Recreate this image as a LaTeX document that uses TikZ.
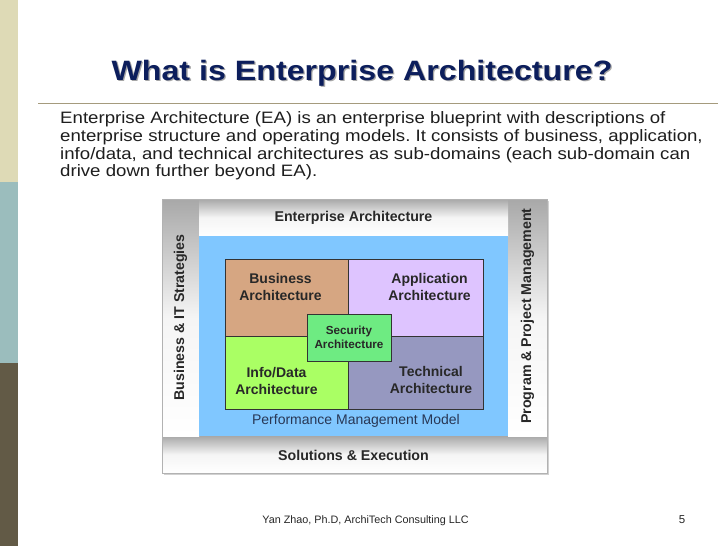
\documentclass[tikz,border=0pt]{standalone}
\usepackage{fontspec}
\setmainfont{Liberation Sans}
\newfontfamily\widefont[FakeStretch=1.15]{Liberation Sans}
\newfontfamily\bodyfont[FakeStretch=1.13]{Liberation Sans}
\usetikzlibrary{shadows}
\definecolor{stripA}{RGB}{222,218,182}
\definecolor{stripB}{RGB}{155,189,189}
\definecolor{stripC}{RGB}{98,90,70}
\definecolor{titlec}{RGB}{12,30,92}
\definecolor{rulec}{RGB}{165,155,125}
\definecolor{bodyc}{RGB}{30,30,30}
\definecolor{skyc}{RGB}{128,199,255}
\definecolor{busc}{RGB}{214,166,130}
\definecolor{appc}{RGB}{222,196,255}
\definecolor{infoc}{RGB}{170,255,100}
\definecolor{techc}{RGB}{150,152,192}
\definecolor{secc}{RGB}{110,235,130}
\definecolor{labc}{RGB}{40,40,40}
\definecolor{perfc}{RGB}{40,55,85}
\definecolor{bandc}{RGB}{168,168,168}
\tikzset{
  band/.style={top color=bandc, bottom color=white, middle color=white!96!black, draw=none},
  archbox/.style={draw=black!80, line width=0.6pt},
  boxlabel/.style={font=\fontsize{14}{17}\selectfont\bfseries, text=labc, align=center},
  bandlabel/.style={font=\fontsize{14.2}{16}\selectfont\bfseries, text=labc},
}
\begin{document}
\begin{tikzpicture}[x=1pt,y=-1pt]
\useasboundingbox (0,0) rectangle (728,546);
\fill[white] (0,0) rectangle (728,546);
% left colour strips
\fill[stripA] (0,0) rectangle (18,182);
\fill[stripB] (0,182) rectangle (18,363);
\fill[stripC] (0,363) rectangle (18,546);
% title
\node[font=\widefont\fontsize{28}{32}\selectfont\bfseries, text=black!35] at (363.3,74.3) {What is Enterprise Architecture?};
\node[font=\widefont\fontsize{28}{32}\selectfont\bfseries, text=titlec] (title) at (362,73) {What is Enterprise Architecture?};
\draw[rulec, line width=0.8pt] (38,103) -- (718,103);
% body text
\node[anchor=north west, inner sep=0pt, text=bodyc, align=left,
  font=\bodyfont\fontsize{16.5}{17.7}\selectfont\frenchspacing] (body) at (60,111.5)
{Enterprise Architecture (EA) is an enterprise blueprint with descriptions of\\
enterprise structure and operating models. It consists of business, application,\\
info/data, and technical architectures as sub-domains (each sub-domain can\\
drive down further beyond EA).};
% diagram frame
\fill[black!18] (164,201) rectangle (549,475);
\fill[white] (162,199) rectangle (547,473);
\shade[band] (162,436) rectangle (547,473);
\shade[band] (162,199) rectangle (199,436);
\shade[band] (508,199) rectangle (547,436);
\shade[band] (199,199) rectangle (508,236);
\draw[black!30, line width=0.5pt] (162,199) rectangle (547,473);
\fill[skyc] (199,236) rectangle (508,436);
\node[bandlabel] (ea) at (353.5,218) {Enterprise Architecture};
\node[bandlabel] (sol) at (353.5,455) {Solutions \& Execution};
\node[bandlabel, rotate=90] (bits) at (180.5,317.5) {Business \& IT Strategies};
\node[bandlabel, rotate=90] (ppm) at (527.5,316) {Program \& Project Management};
% inner boxes
\node[archbox, fill=busc, minimum width=123pt, minimum height=77pt, inner sep=0pt] (bus) at (286.5,297.5) {};
\node[archbox, fill=appc, minimum width=135pt, minimum height=77pt, inner sep=0pt] (app) at (415.5,297.5) {};
\node[archbox, fill=infoc, minimum width=123pt, minimum height=73pt, inner sep=0pt] (info) at (286.5,372.5) {};
\node[archbox, fill=techc, minimum width=135pt, minimum height=73pt, inner sep=0pt] (tech) at (415.5,372.5) {};
\node[boxlabel] at (280.5,287) {Business\\Architecture};
\node[boxlabel] at (429.5,287) {Application\\Architecture};
\node[boxlabel] at (276.5,381) {Info/Data\\Architecture};
\node[boxlabel] at (431,380) {Technical\\Architecture};
\node[archbox, fill=secc, minimum width=84pt, minimum height=47pt, inner sep=0pt,
  font=\fontsize{11.7}{14.5}\selectfont\bfseries, text=labc, align=center] (sec) at (349,337.5)
  {Security\\Architecture};
\node[font=\fontsize{14}{16}\selectfont, text=perfc] (perf) at (356,421) {Performance Management Model};
% footer
\node[font=\fontsize{10.8}{13}\selectfont, text=black!85] (foot) at (365.5,521) {Yan Zhao, Ph.D, ArchiTech Consulting LLC};
\node[font=\fontsize{11.5}{13}\selectfont, text=black!85] (pg) at (682,520) {5};
\end{tikzpicture}
\end{document}
